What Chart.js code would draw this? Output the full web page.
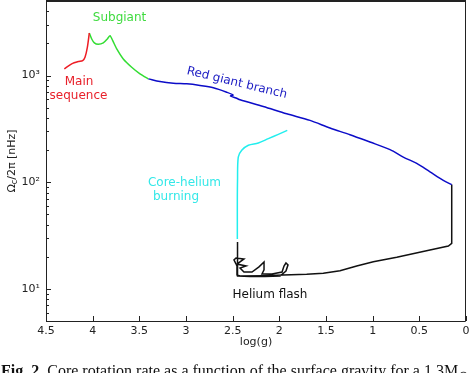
<!DOCTYPE html>
<html>
<head>
<meta charset="utf-8">
<script src="https://cdn.jsdelivr.net/npm/chart.js@4"></script>
<style>
  html, body { margin: 0; padding: 0; background: #fff; }
  #wrap { position: relative; width: 474px; height: 373px; overflow: hidden; }
  #c { position: absolute; left: 0; top: 0; }
  #caption { position: absolute; left: 1px; top: 363px; white-space: nowrap;
    font-family: "Liberation Serif", serif; font-size: 16px; line-height: 16px; color: #111; }
</style>
</head>
<body>
<div id="wrap">
  <canvas id="c" width="474" height="373"></canvas>
  <div id="caption"><b>Fig. 2.</b> Core rotation rate as a function of the surface gravity for a 1.3M<sub>⊙</sub></div>
</div>
<script>
// ---- data: [log(g), Omega_c/2pi in nHz] ----
const mainSequence = [[4.304,1156],[4.225,1286],[4.154,1352],[4.107,1380],[4.082,1483],[4.057,1837],[4.036,2505]];
const subgiant = [[4.036,2505],[4.010,2203],[3.982,2022],[3.940,1963],[3.886,2022],[3.843,2203],[3.814,2367],
  [3.785,2123],[3.742,1778],[3.672,1432],[3.582,1197],[3.493,1038],[3.404,931]];
const redGiantBranch = [[3.404,931],[3.279,879],[3.136,847],[2.992,836],[2.850,807],[2.707,768],[2.564,698],
  [2.496,657],[2.523,643],[2.464,616],[2.421,593],[2.172,513],[1.921,438],[1.671,380],[1.457,322],[1.243,279],
  [1.029,238],[0.814,202],[0.672,172],[0.528,150],[0.386,125],[0.243,104],[0.153,95]];
const heliumFlash = [[0.153,95],[0.153,26.7],[0.189,25.2],[0.386,23.1],[0.742,19.8],[0.993,18.0],[1.171,16.4],
  [1.350,14.8],[1.529,14.0],[1.707,13.7],[1.957,13.5],[2.172,13.3],[2.421,13.2],[2.454,13.5],[2.454,16.4],
  [2.486,18.7],[2.464,19.5],[2.379,19.1],[2.454,17.1],[2.357,16.4],[2.421,15.7],[2.379,14.4],[2.293,14.4],
  [2.218,16.1],[2.164,17.9],[2.164,15.1],[2.186,13.8],[2.079,13.8],[1.971,14.4],[1.950,16.4],[1.929,17.5],
  [1.907,16.8],[1.929,14.7],[1.993,13.2],[2.154,13.1],[2.314,13.1],[2.443,13.2],[2.448,18.7],[2.448,27.5]];
const coreHeliumBurning = [[2.450,29.3],[2.450,44.2],[2.450,67.9],[2.448,104],[2.440,172],[2.403,199],
  [2.332,222],[2.225,233],[2.118,256],[2.011,281],[1.915,306]];

const xTickValues = [4.5, 4, 3.5, 3, 2.5, 2, 1.5, 1, 0.5, 0];
const xTickLabels = ['4.5', '4', '3.5', '3', '2.5', '2', '1.5', '1', '0.5', '0'];
const yMajorValues = [10, 100, 1000];
const yTickLabels = ['10\u00B9', '10\u00B2', '10\u00B3'];
const xTitle = 'log(g)';

const annotations = [
  { text: 'Subgiant', at: [3.712, 3480], color: '#3edb3e', rot: 0 },
  { text: 'Main', at: [4.146, 879], color: '#e8202a', rot: 0 },
  { text: 'sequence', at: [4.152, 650], color: '#e8202a', rot: 0 },
  { text: 'Red giant branch', at: [2.455, 851], color: '#2020c4', rot: 13.6 },
  { text: 'Core-helium', at: [3.016, 98], color: '#33e8e8', rot: 0 },
  { text: 'burning', at: [3.107, 72.5], color: '#33e8e8', rot: 0 },
  { text: 'Helium flash', at: [2.100, 8.8], color: '#111111', rot: 0 }
];

const toPts = arr => arr.map(p => ({ x: p[0], y: p[1] }));
const FONT = '"DejaVu Sans", sans-serif';

function ds(data, color, tension) {
  return { data: toPts(data), borderColor: color, backgroundColor: color, borderWidth: 1.5,
    showLine: true, pointRadius: 0, tension: tension, fill: false };
}

const decorPlugin = {
  id: 'decor',
  afterDraw(chart) {
    const { ctx, chartArea: a, scales: { x, y } } = chart;
    ctx.save();
    // frame
    ctx.strokeStyle = '#222';
    ctx.lineWidth = 1;
    ctx.beginPath();
    ctx.moveTo(a.left + 0.5, a.top); ctx.lineTo(a.left + 0.5, a.bottom + 0.5);
    ctx.lineTo(a.right - 0.5, a.bottom + 0.5); ctx.lineTo(a.right - 0.5, a.top);
    ctx.stroke();
    ctx.lineWidth = 2;
    ctx.beginPath(); ctx.moveTo(a.left, a.top); ctx.lineTo(a.right, a.top); ctx.stroke();
    // inward ticks
    ctx.lineWidth = 1;
    ctx.beginPath();
    y.ticks.forEach(t => {
      const py = Math.round(y.getPixelForValue(t.value)) + 0.5;
      const major = yMajorValues.includes(t.value);
      ctx.moveTo(a.left, py); ctx.lineTo(a.left + (major ? 5 : 3), py);
    });
    x.ticks.forEach(t => {
      const px = Math.round(x.getPixelForValue(t.value)) + 0.5;
      ctx.moveTo(px, a.bottom); ctx.lineTo(px, a.bottom - 5);
    });
    ctx.stroke();
    // annotations
    ctx.textAlign = 'center';
    ctx.textBaseline = 'middle';
    ctx.font = '12px ' + FONT;
    annotations.forEach(an => {
      const px = x.getPixelForValue(an.at[0]);
      const py = y.getPixelForValue(an.at[1]);
      ctx.save();
      ctx.translate(px, py);
      ctx.rotate(an.rot * Math.PI / 180);
      ctx.fillStyle = an.color;
      ctx.fillText(an.text, 0, 0);
      ctx.restore();
    });
    // y-axis title with subscript
    ctx.save();
    ctx.translate(12, (a.top + a.bottom) / 2);
    ctx.rotate(-Math.PI / 2);
    ctx.fillStyle = '#222';
    ctx.textAlign = 'left';
    ctx.textBaseline = 'middle';
    const big = '11px ' + FONT, small = '8px ' + FONT;
    ctx.font = big; const w1 = ctx.measureText('\u03A9').width;
    ctx.font = small; const w2 = ctx.measureText('c').width;
    ctx.font = big; const w3 = ctx.measureText('/2\u03C0 [nHz]').width;
    let cx = -(w1 + w2 + w3) / 2;
    ctx.font = big; ctx.fillText('\u03A9', cx, 0); cx += w1;
    ctx.font = small; ctx.fillText('c', cx, 3); cx += w2;
    ctx.font = big; ctx.fillText('/2\u03C0 [nHz]', cx, 0);
    ctx.restore();
    ctx.restore();
  }
};

new Chart(document.getElementById('c'), {
  type: 'scatter',
  data: {
    datasets: [
      ds(mainSequence, '#ee1c24', 0.25),
      ds(subgiant, '#33dd33', 0.2),
      ds(redGiantBranch, '#0c0cc8', 0.3),
      ds(heliumFlash, '#111111', 0),
      ds(coreHeliumBurning, '#22eeee', 0.3)
    ]
  },
  options: {
    responsive: false,
    animation: false,
    devicePixelRatio: 1,
    layout: { padding: { left: 0, right: 8, top: 1, bottom: 0 } },
    plugins: { legend: { display: false }, tooltip: { enabled: false } },
    scales: {
      x: {
        type: 'linear', min: 0, max: 4.5, reverse: true,
        afterFit: s => { s.height = 52; s.paddingLeft = 0; s.paddingRight = 0; },
        afterBuildTicks: s => { s.ticks = xTickValues.map(v => ({ value: v })); },
        ticks: {
          autoSkip: false, maxRotation: 0, padding: 4, color: '#222',
          font: { family: FONT, size: 11 },
          callback: v => { const i = xTickValues.indexOf(v); return i >= 0 ? xTickLabels[i] : ''; }
        },
        grid: { display: true, drawOnChartArea: false, drawTicks: false },
        border: { display: false },
        title: { display: true, text: xTitle, color: '#222', font: { family: FONT, size: 11 },
          padding: { top: 0, bottom: 24 } }
      },
      y: {
        type: 'logarithmic', min: 5, max: 5000,
        afterFit: s => { s.width = 46; s.paddingTop = 0; s.paddingBottom = 0; },
        afterBuildTicks: s => {
          const vals = [];
          for (let d = 1; d <= 1000; d *= 10) for (let k = 1; k <= 9; k++) {
            const v = k * d; if (v >= 5 && v <= 5000) vals.push(v);
          }
          s.ticks = vals.map(v => ({ value: v }));
        },
        ticks: {
          autoSkip: false, padding: 6, color: '#222',
          font: { family: FONT, size: 11 },
          callback: v => { const i = yMajorValues.indexOf(v); return i >= 0 ? yTickLabels[i] : ''; }
        },
        grid: { display: true, drawOnChartArea: false, drawTicks: false },
        border: { display: false },
        title: { display: false }
      }
    }
  },
  plugins: [decorPlugin]
});
</script>
</body>
</html>
